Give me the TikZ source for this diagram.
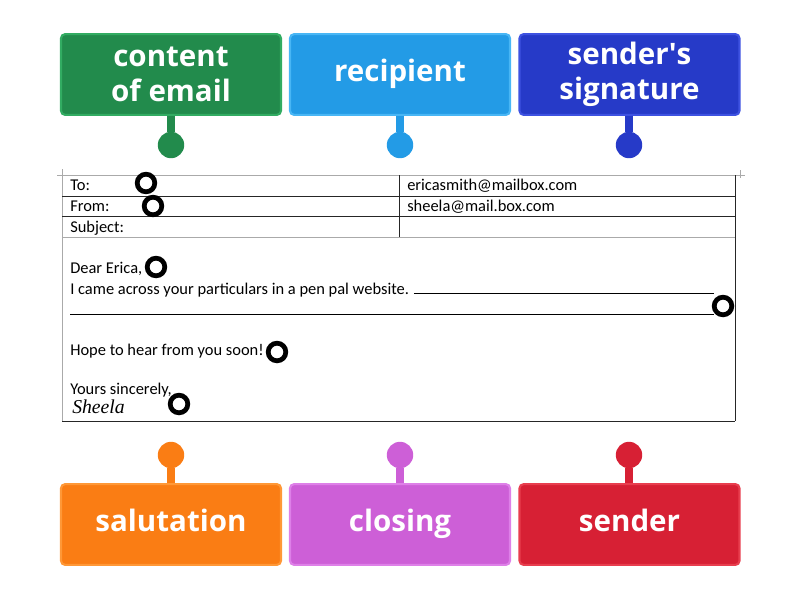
\documentclass[tikz,border=0pt]{standalone}
\usepackage{fontspec}
\setmainfont{Carlito}
\setsansfont{Open Sans}
\newfontfamily\signfont{Liberation Serif}
\usetikzlibrary{positioning}
\definecolor{greenface}{RGB}{34,139,76}
\definecolor{greenrim}{RGB}{50,172,98}
\definecolor{blueface}{RGB}{35,155,230}
\definecolor{bluerim}{RGB}{72,182,245}
\definecolor{navyface}{RGB}{38,58,200}
\definecolor{navyrim}{RGB}{62,82,225}
\definecolor{orangeface}{RGB}{250,125,20}
\definecolor{orangerim}{RGB}{255,152,55}
\definecolor{purpleface}{RGB}{205,95,215}
\definecolor{purplerim}{RGB}{222,128,232}
\definecolor{redface}{RGB}{215,32,52}
\definecolor{redrim}{RGB}{232,62,78}
\definecolor{lightrule}{RGB}{170,170,170}
\tikzset{
    tile/.style = {rectangle, rounded corners=3pt, minimum width=5.5cm, minimum height=2.02cm, inner sep=0pt, line width=1.5pt, text=white, align=center, font=\sffamily\bfseries\fontsize{21}{25}\selectfont},
    oneline/.style = {text height=15pt, text depth=5pt},
    pinball/.style = {circle, minimum size=0.66cm, inner sep=0pt},
    stem/.style = {line width=5pt},
    ring/.style = {circle, draw=black, line width=3.4pt, minimum size=0.44cm, inner sep=0pt},
    mailtext/.style = {anchor=base west, inner sep=0pt, font=\fontsize{11.7}{14}\selectfont},
    gridline/.style = {line width=0.7pt, black!85},
    softline/.style = {line width=0.7pt, lightrule}
}

\begin{document}
\begin{tikzpicture}[x=0.025cm, y=-0.025cm]
	\useasboundingbox (0,0) rectangle (800,600);

	% answer tiles, top row
	\node[tile, fill=greenface, draw=greenrim] (content) at (171, 74.5) {content\\of email};
	\node[tile, oneline, fill=blueface, draw=bluerim] (recipient) at (400, 74.5) {recipient};
	\node[tile, fill=navyface, draw=navyrim] (signature) at (629.5, 74.5) {sender\textquotesingle s\\signature};

	% answer tiles, bottom row
	\node[tile, oneline, fill=orangeface, draw=orangerim] (salutation) at (171, 524.5) {salutation};
	\node[tile, oneline, fill=purpleface, draw=purplerim] (closing) at (400, 524.5) {closing};
	\node[tile, oneline, fill=redface, draw=redrim] (sender) at (629.5, 524.5) {sender};

	% pins
	\node[pinball, fill=greenface] (pinContent) at (171, 145) {};
	\node[pinball, fill=blueface] (pinRecipient) at (400, 145) {};
	\node[pinball, fill=navyface] (pinSignature) at (629, 145) {};
	\node[pinball, fill=orangeface] (pinSalutation) at (171, 455) {};
	\node[pinball, fill=purpleface] (pinClosing) at (400, 455) {};
	\node[pinball, fill=redface] (pinSender) at (629, 455) {};

	\draw[stem, greenface] (content.south) -- (pinContent);
	\draw[stem, blueface] (recipient.south) -- (pinRecipient);
	\draw[stem, navyface] (signature.south -| pinSignature) -- (pinSignature);
	\draw[stem, orangeface] (salutation.north) -- (pinSalutation);
	\draw[stem, purpleface] (closing.north) -- (pinClosing);
	\draw[stem, redface] (sender.north -| pinSender) -- (pinSender);

	% email form
	\draw[softline] (62, 169) -- (62, 421);
	\draw[softline] (57, 175) -- (745, 175);
	\draw[softline] (740, 170) -- (740, 178);
	\draw[gridline] (62, 196) -- (735, 196);
	\draw[gridline] (62, 216) -- (735, 216);
	\draw[softline] (62, 237) -- (735, 237);
	\draw[gridline] (399, 175) -- (399, 237);
	\draw[gridline] (735, 175) -- (735, 421);
	\draw[gridline] (62, 421) -- (735, 421);

	\node[mailtext] (to) at (70, 190) {To:};
	\node[mailtext] (from) at (70, 211) {From:};
	\node[mailtext] (subject) at (70, 232) {Subject:};
	\node[mailtext] (toAddr) at (407, 190) {ericasmith@mailbox.com};
	\node[mailtext] (fromAddr) at (407, 211) {sheela@mail.box.com};

	\node[mailtext] (dear) at (70, 273) {Dear Erica,};
	\node[mailtext] (body) at (70, 294) {\makebox[16.1cm][l]{I came across your particulars in a pen pal website. \hrulefill}};
	\node[mailtext] (blank) at (70, 315) {\makebox[16.1cm][l]{\hrulefill}};
	\node[mailtext] (hope) at (70, 355) {Hope to hear from you soon!};
	\node[mailtext] (yours) at (70, 394) {Yours sincerely,};
	\node[mailtext, font=\signfont\itshape\fontsize{14}{16}\selectfont] (name) at (72, 413) {Sheela};

	% drop targets
	\node[ring] (ringTo) at (146, 183) {};
	\node[ring] (ringFrom) at (153, 206) {};
	\node[ring] (ringDear) at (156, 267) {};
	\node[ring] (ringBody) at (723, 306) {};
	\node[ring] (ringHope) at (277, 352) {};
	\node[ring] (ringName) at (179, 404) {};
\end{tikzpicture}
\end{document}
